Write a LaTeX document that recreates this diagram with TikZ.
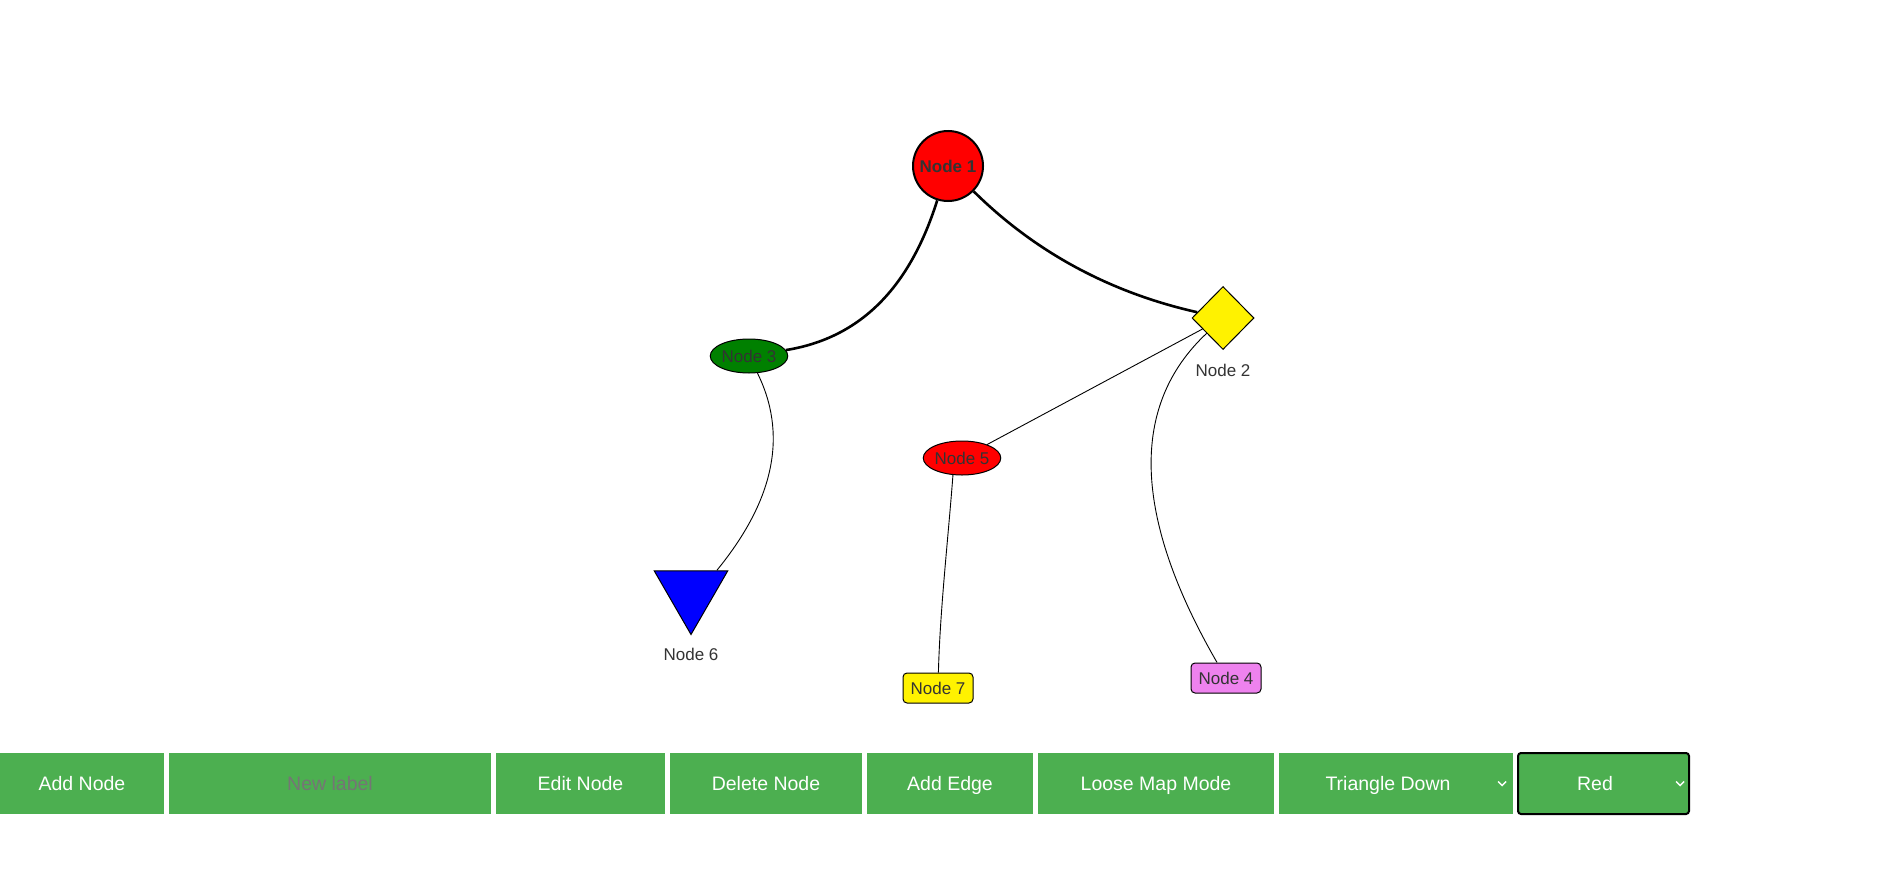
\documentclass[tikz,border=0pt]{standalone}
\usepackage{fontspec}
\setmainfont{Liberation Sans}
\usetikzlibrary{shapes.geometric}
\definecolor{btngreen}{HTML}{4CAF50}
\definecolor{txt}{HTML}{333333}
\definecolor{ph}{HTML}{757575}
\definecolor{nviolet}{HTML}{EE82EE}
\definecolor{ngreen}{HTML}{008000}
\tikzset{
  nodetext/.style={text=txt, font=\fontsize{17}{20}\selectfont, text height=12.2pt, text depth=0pt},
  ellnode/.style={ellipse, draw=black, line width=1pt, minimum width=72pt, minimum height=34pt, inner sep=0pt, nodetext},
  boxnode/.style={rectangle, rounded corners=4pt, draw=black, line width=1pt, minimum width=70pt, minimum height=30pt, inner sep=0pt, nodetext},
  btnbox/.style={rectangle, fill=btngreen, inner sep=0pt, minimum height=61pt, text=white, font=\fontsize{19.5}{22}\selectfont, text height=14pt, text depth=0pt},
  btntext/.style={text=white, font=\fontsize{19.5}{22}\selectfont, inner sep=0pt, text height=14pt, text depth=0pt},
  thickedge/.style={line width=2.6pt},
  thinedge/.style={line width=0.9pt},
  chevron/.style={draw=white, line width=1.4pt}
}
\begin{document}
\begin{tikzpicture}[x=1pt,y=-1pt]
\useasboundingbox[fill=white] (0,0) rectangle (1902,891);

% graph nodes
\node[circle, draw=black, line width=2pt, fill=red, minimum size=70pt, inner sep=0pt, text=txt, font=\bfseries\fontsize{17}{20}\selectfont, text height=12.2pt, text depth=0pt] (n1) at (948,166) {Node 1};
\node[diamond, draw=black, line width=1pt, fill=yellow, minimum width=62pt, minimum height=63pt, inner sep=0pt] (n2) at (1223,318) {};
\node[nodetext] (l2) at (1223,370) {Node 2};
\node[ellnode, fill=ngreen] (n3) at (749,356) {Node 3};
\node[ellnode, fill=red] (n5) at (962,458) {Node 5};
\node[regular polygon, regular polygon sides=3, shape border rotate=180, draw=black, line width=1pt, fill=blue, minimum size=85pt, inner sep=0pt] (n6) at (691,592) {};
\node[nodetext] (l6) at (691,654) {Node 6};
\node[boxnode, fill=yellow] (n7) at (938,688) {Node 7};
\node[boxnode, fill=nviolet] (n4) at (1226,678) {Node 4};

% edges
\draw[thickedge] (n1) .. controls (910,287) and (861,338) .. (n3);
\draw[thickedge] (n1) .. controls (1039,256) and (1116,294) .. (n2);
\draw[thinedge] (n2) -- (n5);
\draw[thinedge] (n2) .. controls (1129,406) and (1133,517) .. (n4);
\draw[thinedge] (n3) .. controls (787,433) and (776,498) .. (n6.40);
\draw[thinedge] (n5.242) .. controls (948,540) and (940,610) .. (n7);

% toolbar
\node[btnbox, minimum width=164pt] (b1) at (82,783.5) {Add Node};
\node[btnbox, minimum width=322pt, text=ph] (b2) at (330,783.5) {New label};
\node[btnbox, minimum width=169pt] (b3) at (580.5,783.5) {Edit Node};
\node[btnbox, minimum width=192pt] (b4) at (766,783.5) {Delete Node};
\node[btnbox, minimum width=166pt] (b5) at (950,783.5) {Add Edge};
\node[btnbox, minimum width=236pt] (b6) at (1156,783.5) {Loose Map Mode};
\node[btnbox, minimum width=234pt] (b7) at (1396,783.5) {};
\node[btntext] (t7) at (1388,783.5) {Triangle Down};
\draw[chevron] (1498,781.5) -- (1502,785.5) -- (1506,781.5);
\node[btnbox, minimum width=171pt, minimum height=61pt, draw=black, line width=2pt, rounded corners=3pt] (b8) at (1603.5,783.5) {};
\node[btntext] (t8) at (1595,783.5) {Red};
\draw[chevron] (1676,781.5) -- (1680,785.5) -- (1684,781.5);
\end{tikzpicture}
\end{document}
